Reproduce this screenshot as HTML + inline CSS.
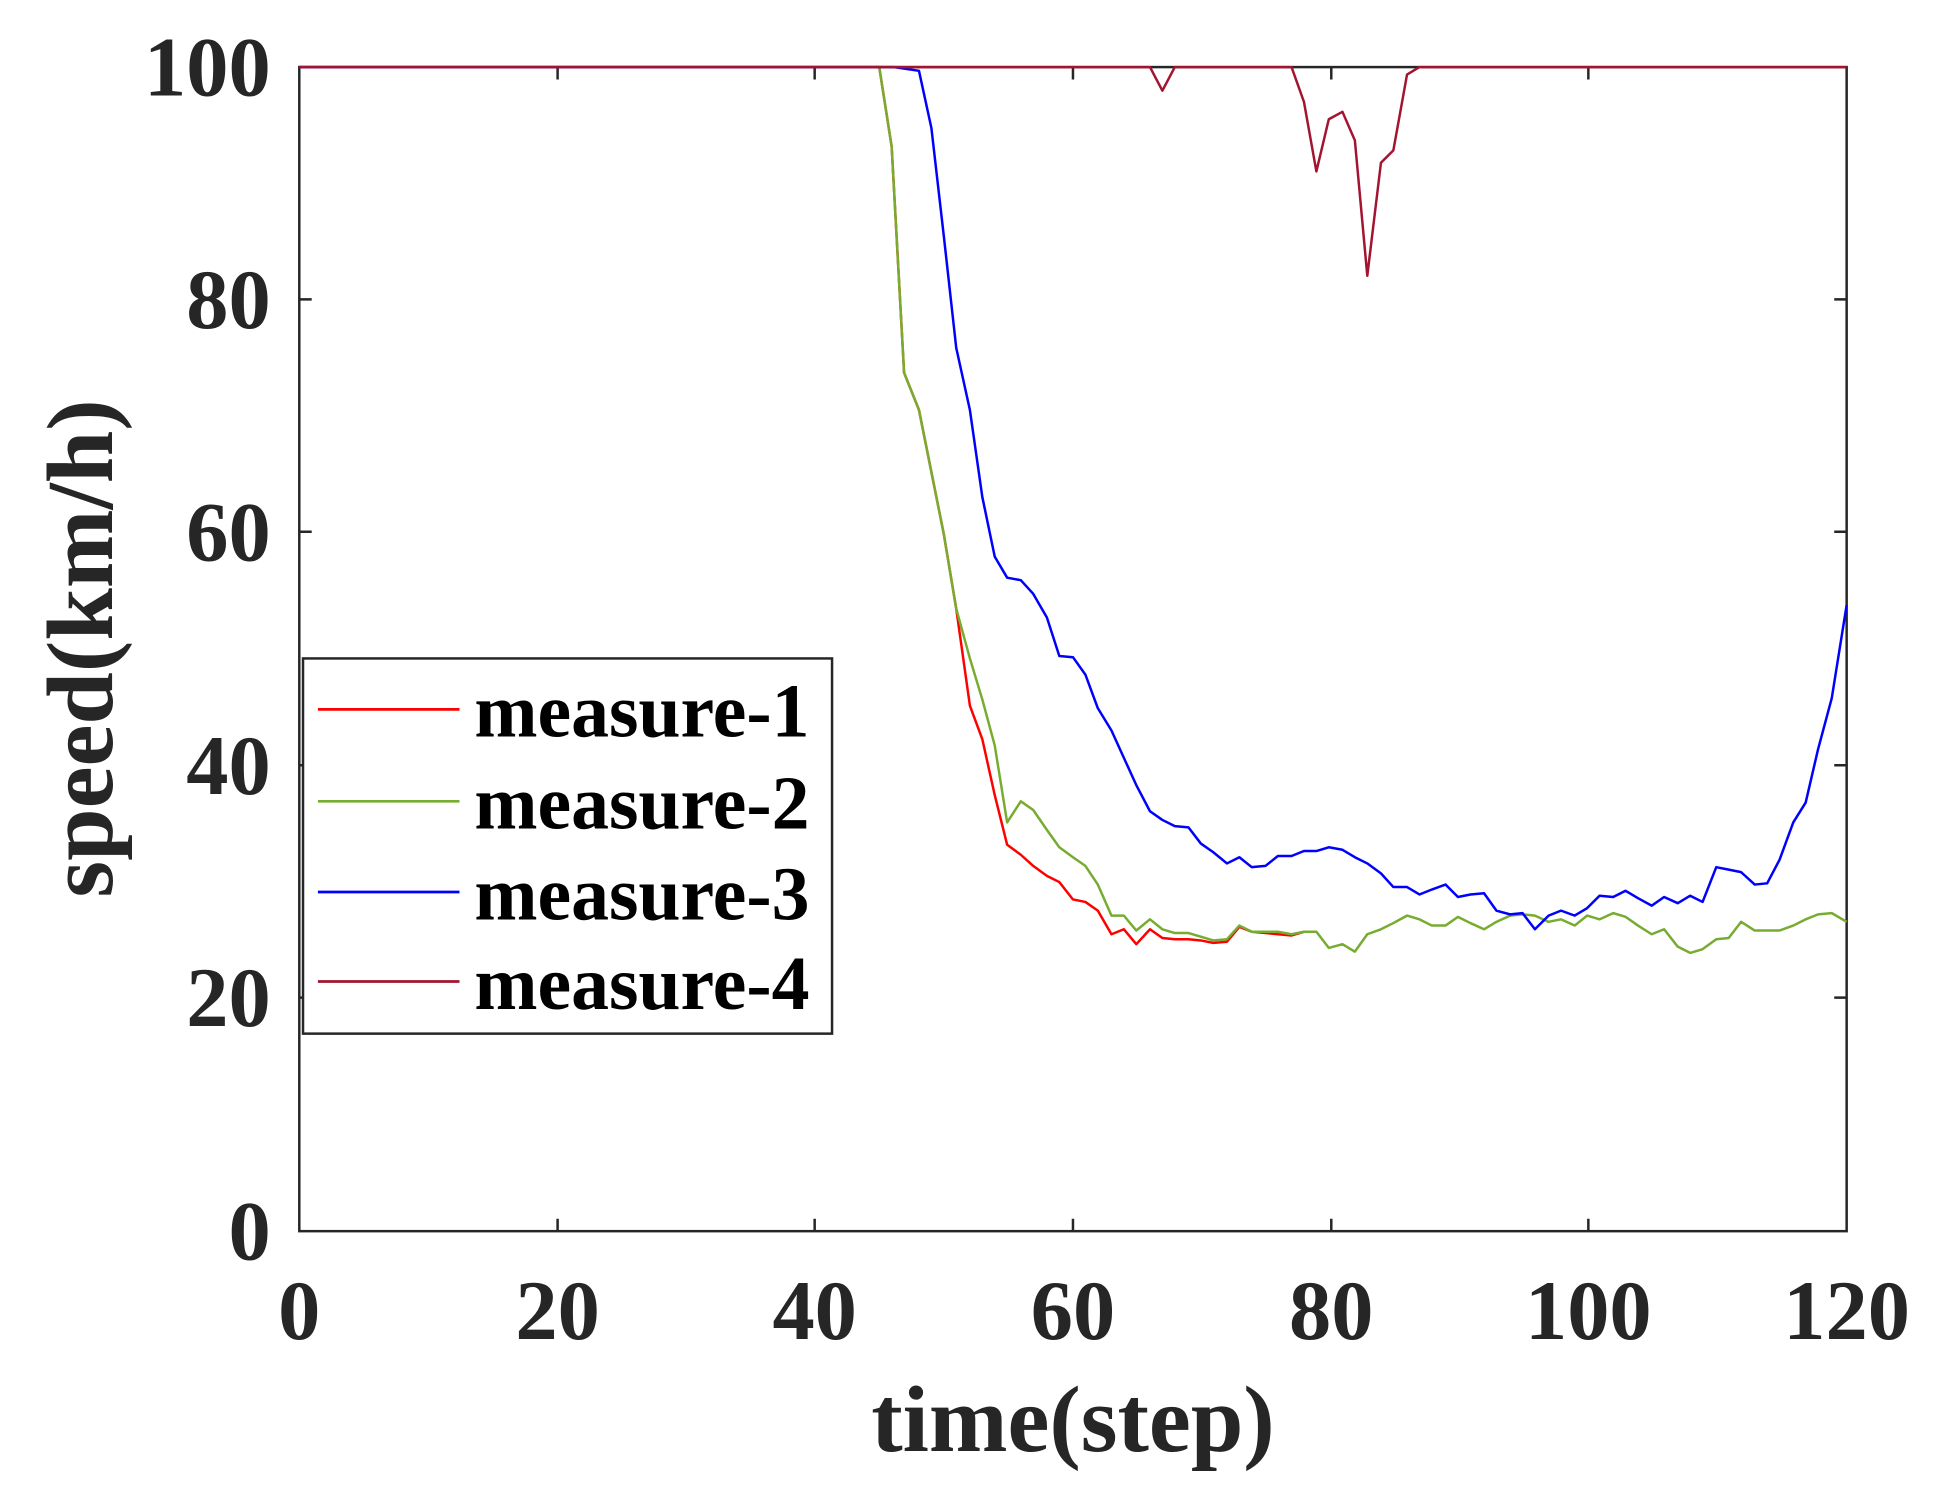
<!DOCTYPE html>
<html><head><style>html,body{margin:0;padding:0;background:#fff}svg{display:block}</style></head>
<body>
<svg width="1946" height="1502" viewBox="0 0 1567 1209" preserveAspectRatio="none" xmlns="http://www.w3.org/2000/svg" font-family="Liberation Serif, serif" font-weight="bold">
<rect width="1567" height="1209" fill="#fff"/>
<g stroke="#262626" stroke-width="2" fill="none">
<rect x="241" y="54" width="1246" height="937"/>
<path d="M449,991v-10M656,991v-10M864,991v-10M1072,991v-10M1279,991v-10M449,54v10M656,54v10M864,54v10M1072,54v10M1279,54v10M241,803h10M241,616h10M241,428h10M241,241h10M1487,803h-10M1487,616h-10M1487,428h-10M1487,241h-10"/>
</g>
<g fill="none" stroke-width="2" stroke-linejoin="round">
<polyline stroke="#ff0000" points="241,54 708,54 718,118 728,300 740,330 750,380 760,430 770,490 781,568 791,595 801,640 811,680 822,688 832,697 843,705 853,710 864,724 874,726 884,733 895,752 905,748 915,760 926,748 936,755 946,756 957,756 967,757 977,759 988,758 998,746 1008,750 1040,753 1050,750 1060,750"/>
<polyline stroke="#77ac30" points="708,54 718,118 728,300 740,330 750,380 760,430 770,490 781,530 791,563 801,600 811,662 822,645 832,652 843,668 853,682 864,690 874,697 884,712 895,737 905,737 915,749 926,740 936,748 946,751 957,751 967,754 977,757 988,756 998,745 1008,750 1019,750 1029,750 1040,752 1050,750 1060,750 1070,763 1081,760 1091,766 1101,752 1112,748 1122,743 1133,737 1143,740 1153,745 1164,745 1174,738 1184,743 1195,748 1205,742 1216,737 1226,736 1236,737 1247,742 1257,740 1268,745 1278,737 1288,740 1299,735 1309,738 1319,745 1330,752 1340,748 1351,762 1361,767 1371,764 1382,756 1392,755 1402,742 1413,749 1423,749 1433,749 1444,745 1454,740 1464,736 1475,735 1487,742"/>
<polyline stroke="#0000ff" points="241,54 720,54 740,57 750,103 760,190 770,280 781,330 791,400 801,448 811,465 822,467 832,478 843,497 853,528 864,529 874,543 884,570 895,588 905,610 915,632 926,653 936,660 946,665 957,666 967,679 977,686 988,695 998,690 1008,698 1019,697 1029,689 1040,689 1050,685 1060,685 1070,682 1081,684 1091,690 1101,695 1112,703 1122,714 1133,714 1143,720 1153,716 1164,712 1174,722 1184,720 1195,719 1205,733 1216,736 1226,735 1236,748 1247,737 1257,733 1268,737 1278,731 1288,721 1299,722 1309,717 1319,723 1330,729 1340,722 1351,727 1361,721 1371,726 1382,698 1392,700 1402,702 1413,712 1423,711 1433,692 1444,662 1454,646 1464,603 1475,562 1487,487"/>
<polyline stroke="#a2142f" points="241,54 926,54 936,73 946,54 1040,54 1050,82 1060,138 1070,96 1081,90 1091,113 1101,222 1112,131 1122,121 1133,60 1143,54 1487,54"/>
</g>
<g fill="#262626" font-size="68">
<g text-anchor="end">
<text x="218" y="1014">0</text><text x="218" y="826">20</text><text x="218" y="639">40</text><text x="218" y="451">60</text><text x="218" y="264">80</text><text x="218" y="77">100</text>
</g>
<g text-anchor="middle">
<text x="241" y="1078">0</text><text x="449" y="1078">20</text><text x="656" y="1078">40</text><text x="864" y="1078">60</text><text x="1072" y="1078">80</text><text x="1279" y="1078">100</text><text x="1487" y="1078">120</text>
<text x="864" y="1168" font-size="76">time(step)</text>
<text transform="translate(90,522) rotate(-90)" font-size="76">speed(km/h)</text>
</g>
</g>
<rect x="244" y="530" width="426" height="302" fill="#fff" stroke="#262626" stroke-width="2"/>
<g stroke-width="2.2">
<line x1="256" y1="571" x2="370" y2="571" stroke="#ff0000"/>
<line x1="256" y1="645" x2="370" y2="645" stroke="#77ac30"/>
<line x1="256" y1="718" x2="370" y2="718" stroke="#0000ff"/>
<line x1="256" y1="790" x2="370" y2="790" stroke="#a2142f"/>
</g>
<g font-size="61" fill="#000">
<text x="382" y="593">measure-1</text><text x="382" y="667">measure-2</text><text x="382" y="740">measure-3</text><text x="382" y="812">measure-4</text>
</g>
</svg>
</body></html>
